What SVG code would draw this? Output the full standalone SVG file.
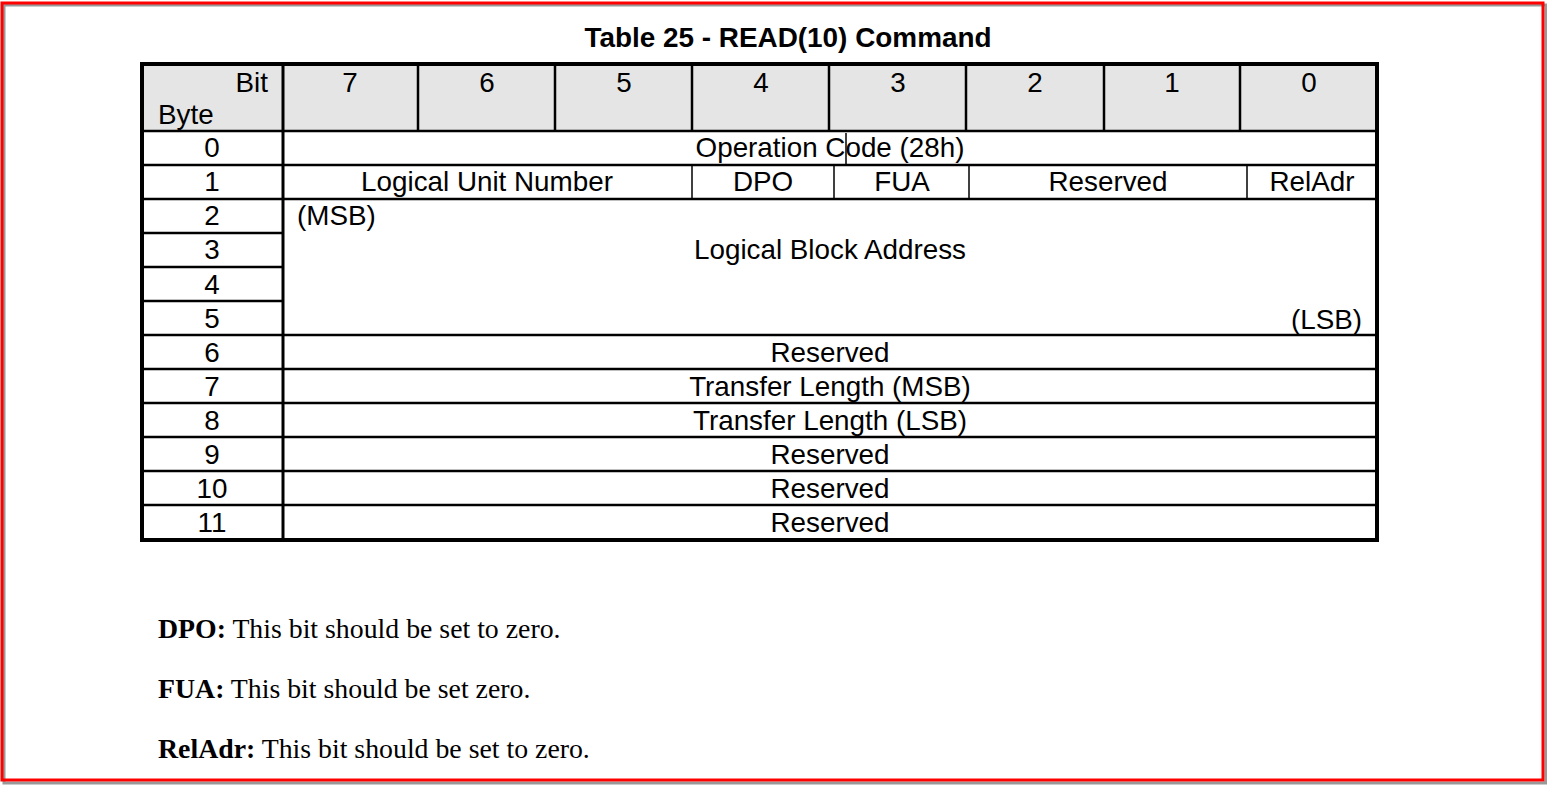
<svg xmlns="http://www.w3.org/2000/svg" width="1547" height="785" viewBox="0 0 1547 785">
<style>
.t{font-family:"Liberation Sans",Arial,sans-serif;font-size:27.8px;fill:#000;text-anchor:middle}
.n{font-family:"Liberation Serif","Times New Roman",serif;font-size:27.8px;fill:#000}
.l{stroke:#000;stroke-width:2.5;fill:none}
.th{stroke:#000;stroke-width:1.5;fill:none}
</style>
<rect x="0" y="0" width="1547" height="785" fill="#fff"/>
<rect x="4" y="5" width="1542" height="778" fill="none" stroke="#999" stroke-width="3"/>
<rect x="2" y="3" width="1541" height="777" fill="none" stroke="#f00" stroke-width="3"/>
<text x="788" y="47" class="t" style="font-weight:bold;font-size:27.9px">Table 25 - READ(10) Command</text>
<g id="table">
<rect x="142" y="64" width="1235" height="67" fill="#e5e5e5"/>
<g class="l">
<line x1="142" y1="131" x2="1377" y2="131"/>
<line x1="142" y1="165" x2="1377" y2="165"/>
<line x1="142" y1="199" x2="1377" y2="199"/>
<line x1="142" y1="233" x2="283" y2="233"/>
<line x1="142" y1="267" x2="283" y2="267"/>
<line x1="142" y1="301" x2="283" y2="301"/>
<line x1="142" y1="335" x2="1377" y2="335"/>
<line x1="142" y1="369" x2="1377" y2="369"/>
<line x1="142" y1="403" x2="1377" y2="403"/>
<line x1="142" y1="437" x2="1377" y2="437"/>
<line x1="142" y1="471" x2="1377" y2="471"/>
<line x1="142" y1="505" x2="1377" y2="505"/>
<line x1="418" y1="64" x2="418" y2="131"/>
<line x1="555" y1="64" x2="555" y2="131"/>
<line x1="692" y1="64" x2="692" y2="131"/>
<line x1="829" y1="64" x2="829" y2="131"/>
<line x1="966" y1="64" x2="966" y2="131"/>
<line x1="1104" y1="64" x2="1104" y2="131"/>
<line x1="1240" y1="64" x2="1240" y2="131"/>
</g>
<g class="th">
<line x1="692" y1="165" x2="692" y2="199"/>
<line x1="834" y1="165" x2="834" y2="199"/>
<line x1="969" y1="165" x2="969" y2="199"/>
<line x1="1247" y1="165" x2="1247" y2="199"/>
<line x1="846" y1="133" x2="846" y2="164"/>
</g>
<line x1="283" y1="64" x2="283" y2="540" stroke="#000" stroke-width="3"/>
<rect x="142" y="64" width="1235" height="476" fill="none" stroke="#000" stroke-width="4"/>
<text x="268" y="92" class="t" style="text-anchor:end">Bit</text>
<text x="158" y="124" class="t" style="text-anchor:start">Byte</text>
<text x="350" y="92" class="t">7</text>
<text x="487" y="92" class="t">6</text>
<text x="624" y="92" class="t">5</text>
<text x="761" y="92" class="t">4</text>
<text x="898" y="92" class="t">3</text>
<text x="1035" y="92" class="t">2</text>
<text x="1172" y="92" class="t">1</text>
<text x="1309" y="92" class="t">0</text>
<text x="212" y="157" class="t">0</text>
<text x="212" y="191" class="t">1</text>
<text x="212" y="225" class="t">2</text>
<text x="212" y="259" class="t">3</text>
<text x="212" y="294" class="t">4</text>
<text x="212" y="328" class="t">5</text>
<text x="212" y="362" class="t">6</text>
<text x="212" y="396" class="t">7</text>
<text x="212" y="430" class="t">8</text>
<text x="212" y="464" class="t">9</text>
<text x="212" y="498" class="t">10</text>
<text x="212" y="532" class="t">11</text>
<text x="830" y="157" class="t">Operation Code (28h)</text>
<text x="487" y="191" class="t">Logical Unit Number</text>
<text x="763" y="191" class="t">DPO</text>
<text x="902" y="191" class="t">FUA</text>
<text x="1108" y="191" class="t">Reserved</text>
<text x="1312" y="191" class="t">RelAdr</text>
<text x="297" y="225" class="t" style="text-anchor:start">(MSB)</text>
<text x="830" y="259" class="t">Logical Block Address</text>
<text x="1362" y="329" class="t" style="text-anchor:end">(LSB)</text>
<text x="830" y="362" class="t">Reserved</text>
<text x="830" y="396" class="t">Transfer Length (MSB)</text>
<text x="830" y="430" class="t">Transfer Length (LSB)</text>
<text x="830" y="464" class="t">Reserved</text>
<text x="830" y="498" class="t">Reserved</text>
<text x="830" y="532" class="t">Reserved</text>
</g>
<text x="158" y="638" class="n"><tspan font-weight="bold">DPO:</tspan> This bit should be set to zero.</text>
<text x="158" y="698" class="n"><tspan font-weight="bold">FUA:</tspan> This bit should be set zero.</text>
<text x="158" y="758" class="n"><tspan font-weight="bold">RelAdr:</tspan> This bit should be set to zero.</text>
</svg>
